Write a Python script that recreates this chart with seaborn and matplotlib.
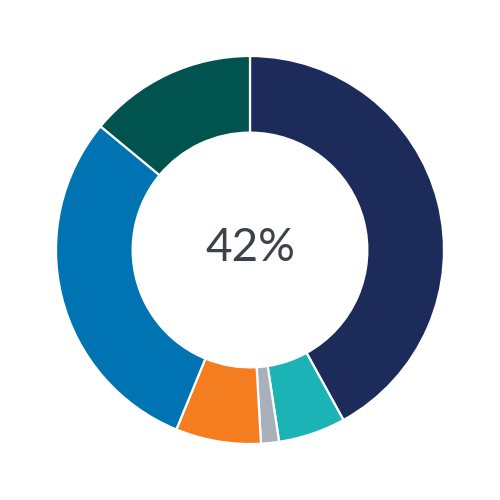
import matplotlib
matplotlib.use("Agg")
import matplotlib.pyplot as plt
import seaborn as sns

categories = ["Navy", "Teal", "Gray", "Orange", "Blue", "Green"]
values = [42.0, 5.6, 1.5, 7.1, 29.8, 14.0]
colors = ["#1c2b5a", "#1bb3b5", "#a9b0bc", "#f47d20", "#0073b2", "#00534f"]
center_label = "42%"

sns.set_theme(style="white")
plt.rcParams['font.family'] = ['Lato', 'DejaVu Sans']

fig = plt.figure(figsize=(5, 5), dpi=100)
ax = fig.add_axes([0, 0, 1, 1])
ax.pie(values, colors=colors, startangle=90, counterclock=False,
       radius=1.0, wedgeprops=dict(width=0.395, edgecolor="white", linewidth=1.6))
ax.text(0, 0.01, center_label, ha="center", va="center", fontsize=33,
        color="#3b4249", fontweight="normal")
lim = 250 / 194
ax.set_xlim(-lim, lim)
ax.set_ylim(-lim, lim)
ax.set_aspect("equal")
ax.axis("off")
fig.savefig("out.png", dpi=100, facecolor="white")
